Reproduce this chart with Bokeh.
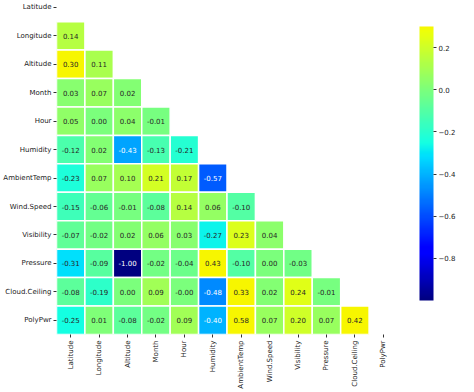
import numpy as np
from bokeh.plotting import figure
from bokeh.models import (ColumnDataSource, LinearColorMapper, ColorBar, FixedTicker,
                          Range1d, CustomJSTickFormatter)
from bokeh.transform import transform
from bokeh.core.properties import value
from bokeh.embed import file_html
from bokeh.resources import INLINE

names = ["Latitude", "Longitude", "Altitude", "Month", "Hour", "Humidity",
         "AmbientTemp", "Wind.Speed", "Visibility", "Pressure", "Cloud.Ceiling", "PolyPwr"]

# lower triangle of the correlation matrix (row i, columns 0..i-1)
row_longitude = [0.14]
row_altitude = [0.30, 0.11]
row_month = [0.03, 0.07, 0.02]
row_hour = [0.05, 0.00, 0.04, -0.01]
row_humidity = [-0.12, 0.02, -0.43, -0.13, -0.21]
row_ambienttemp = [-0.23, 0.07, 0.10, 0.21, 0.17, -0.57]
row_windspeed = [-0.15, -0.06, -0.01, -0.08, 0.14, 0.06, -0.10]
row_visibility = [-0.07, -0.02, 0.02, 0.06, 0.03, -0.27, 0.23, 0.04]
row_pressure = [-0.31, -0.09, -1.00, -0.02, -0.04, 0.43, -0.10, 0.00, -0.03]
row_cloudceiling = [-0.08, -0.19, 0.00, 0.09, -0.0, -0.48, 0.33, 0.02, 0.24, -0.01]
row_polypwr = [-0.25, 0.01, -0.08, -0.02, 0.09, -0.40, 0.58, 0.07, 0.20, 0.07, 0.42]

lower = [[], row_longitude, row_altitude, row_month, row_hour, row_humidity,
         row_ambienttemp, row_windspeed, row_visibility, row_pressure,
         row_cloudceiling, row_polypwr]

cbar_ticks = [-0.8, -0.6, -0.4, -0.2, 0.0, 0.2]
vmin, vmax, center = -1.0, 0.3, 0.0

# matplotlib "jet" colormap, recentred the way seaborn does with center=0
def jet(t):
    r = np.interp(t, [0, 0.35, 0.66, 0.89, 1], [0, 0, 1, 1, 0.5])
    g = np.interp(t, [0, 0.125, 0.375, 0.64, 0.91, 1], [0, 0, 1, 1, 0, 0])
    b = np.interp(t, [0, 0.11, 0.34, 0.65, 1], [0.5, 1, 1, 0, 0])
    return r, g, b

vrange = max(vmax - center, center - vmin)
cmin = (vmin - (center - vrange)) / (2 * vrange)
cmax = (vmax - (center - vrange)) / (2 * vrange)

def to_hex(rgb):
    return "#%02x%02x%02x" % tuple(int(round(c * 255)) for c in rgb)

palette = [to_hex(jet(t)) for t in np.linspace(cmin, cmax, 256)]

def text_color(v):
    f = min(max((v - vmin) / (vmax - vmin), 0.0), 1.0)
    t = cmin + f * (cmax - cmin)
    rgb = np.array(jet(t))
    lin = np.where(rgb <= 0.03928, rgb / 12.92, ((rgb + 0.055) / 1.055) ** 2.4)
    lum = lin.dot([0.2126, 0.7152, 0.0722])
    return "#262626" if lum > 0.408 else "#ffffff"

xs, ys, vals, labels, tcols = [], [], [], [], []
for i, row in enumerate(lower):
    for j, v in enumerate(row):
        xs.append(j + 0.5)
        ys.append(i + 0.5)
        vals.append(v)
        labels.append(f"{v:.2f}")
        tcols.append(text_color(v))

src = ColumnDataSource(dict(x=xs, y=ys, v=vals, label=labels, tc=tcols))

mapper = LinearColorMapper(palette=palette, low=vmin, high=vmax)

n = len(names)
p = figure(width=474, height=392, x_range=Range1d(0, n), y_range=Range1d(n, 0.257),
           output_backend="svg", toolbar_location=None,
           min_border_left=56, min_border_right=77, min_border_top=0, min_border_bottom=58)

p.rect(x="x", y="y", width=1, height=1, source=src,
       fill_color=transform("v", mapper), line_color="white", line_width=1.5)
p.text(x="x", y="y", text="label", source=src, text_color="tc",
       text_align="center", text_baseline="middle",
       text_font=value("DejaVu Sans"), text_font_size="7px")

centers = [i + 0.5 for i in range(n)]
overrides = {c: nm for c, nm in zip(centers, names)}
for ax in (p.xaxis[0], p.yaxis[0]):
    ax.ticker = FixedTicker(ticks=centers)
    ax.major_label_overrides = overrides
    ax.axis_line_color = None
    ax.major_tick_out = 3
    ax.major_tick_in = 0
    ax.minor_tick_line_color = None
    ax.major_tick_line_color = "#333333"
    ax.major_label_text_font = "DejaVu Sans"
    ax.major_label_text_font_size = "7px"
    ax.major_label_text_color = "#222222"
    ax.major_label_standoff = 2
p.xaxis.major_label_orientation = np.pi / 2
p.xaxis.major_label_standoff = 3

p.grid.visible = False
p.outline_line_color = None

cb = ColorBar(color_mapper=mapper, width=14, height=274, location=(363, 34),
              padding=0, margin=0,
              ticker=FixedTicker(ticks=cbar_ticks),
              formatter=CustomJSTickFormatter(code="return tick.toFixed(1).replace('-', '\u2212')"),
              major_label_text_font="DejaVu Sans", major_label_text_font_size="7px",
              major_label_text_color="#222222",
              major_tick_out=3, major_tick_in=0, major_tick_line_color="#333333",
              minor_tick_line_color=None, bar_line_color=None,
              border_line_color=None, background_fill_color=None, label_standoff=2)
p.add_layout(cb)

open("out.html", "w").write(file_html(p, INLINE))
